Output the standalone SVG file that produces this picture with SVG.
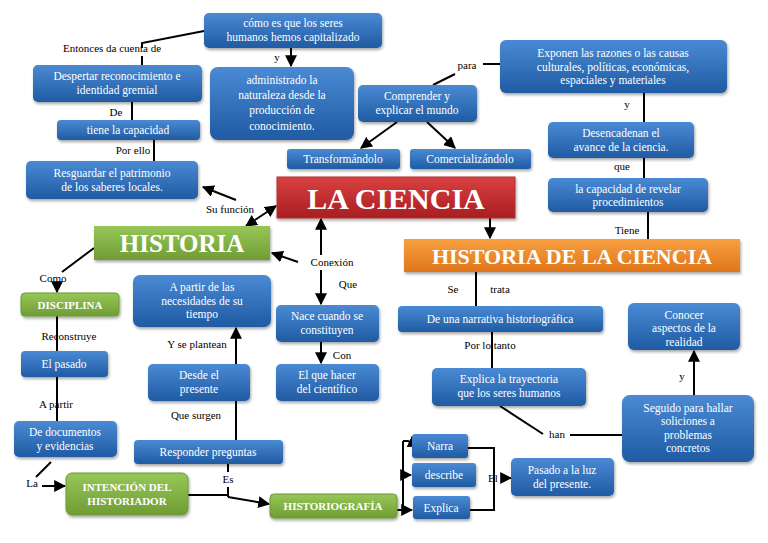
<svg xmlns="http://www.w3.org/2000/svg" width="768" height="543" viewBox="0 0 768 543">
<defs>
<linearGradient id="gb" x1="0" y1="0" x2="0" y2="1"><stop offset="0" stop-color="#4a8ad4"/><stop offset="1" stop-color="#1f5ba3"/></linearGradient>
<linearGradient id="gg" x1="0" y1="0" x2="0" y2="1"><stop offset="0" stop-color="#97c658"/><stop offset="1" stop-color="#6f9d34"/></linearGradient>
<linearGradient id="gr" x1="0" y1="0" x2="0" y2="1"><stop offset="0" stop-color="#d94040"/><stop offset="1" stop-color="#a81e22"/></linearGradient>
<linearGradient id="go" x1="0" y1="0" x2="0" y2="1"><stop offset="0" stop-color="#f7a040"/><stop offset="1" stop-color="#e0751a"/></linearGradient>
<filter id="sh" x="-10%" y="-20%" width="120%" height="150%"><feDropShadow dx="1" dy="2" stdDeviation="1.5" flood-color="#000" flood-opacity="0.35"/></filter>
<marker id="ar" viewBox="0 0 10 10" refX="9" refY="5" markerWidth="6" markerHeight="6" orient="auto-start-reverse"><path d="M0,0 L10,5 L0,10 z" fill="#000"/></marker>
</defs>
<style>
.b{fill:url(#gb);filter:url(#sh)}
.g{fill:url(#gg);stroke:#6a9a30;filter:url(#sh)}
.t{font-family:"Liberation Serif","DejaVu Serif",serif;font-size:11.5px;fill:#fff;text-anchor:middle}
.tg{font-family:"Liberation Serif","DejaVu Serif",serif;font-size:11px;font-weight:bold;fill:#fff;text-anchor:middle}
.l{font-family:"Liberation Serif","DejaVu Serif",serif;font-size:11px;fill:#000;text-anchor:middle}
.big{font-family:"Liberation Serif","DejaVu Serif",serif;font-weight:bold;fill:#fff;text-anchor:middle}
#c line,#c polyline{stroke:#000;stroke-width:2;fill:none}
</style>
<rect width="768" height="543" fill="#fff"/>
<g id="c">
<polyline points="204,31 142,43 142,48"/><line x1="142" y1="56" x2="142" y2="65"/>
<line x1="291" y1="48" x2="291" y2="66" marker-end="url(#ar)"/>
<line x1="132" y1="102" x2="132" y2="120"/>
<line x1="154" y1="140" x2="154" y2="161"/>
<line x1="236" y1="200" x2="203" y2="187" marker-end="url(#ar)"/>
<line x1="246" y1="226" x2="276" y2="206" marker-start="url(#ar)" marker-end="url(#ar)"/>
<line x1="433" y1="85" x2="455" y2="74"/><line x1="483" y1="64" x2="500" y2="64"/>
<line x1="397" y1="122" x2="361" y2="148" marker-end="url(#ar)"/>
<line x1="427" y1="122" x2="455" y2="148" marker-end="url(#ar)"/>
<line x1="644" y1="93" x2="644" y2="122"/>
<line x1="644" y1="158" x2="644" y2="178"/>
<line x1="648" y1="212" x2="648" y2="239"/>
<line x1="490" y1="218" x2="490" y2="238" marker-end="url(#ar)"/>
<line x1="321" y1="255" x2="321" y2="219" marker-end="url(#ar)"/>
<line x1="298" y1="262" x2="272" y2="253" marker-end="url(#ar)"/>
<line x1="321" y1="270" x2="321" y2="304" marker-end="url(#ar)"/>
<line x1="321" y1="342" x2="321" y2="363" marker-end="url(#ar)"/>
<line x1="94" y1="248" x2="62" y2="272"/>
<line x1="57" y1="283" x2="57" y2="292" marker-end="url(#ar)"/>
<line x1="57" y1="316" x2="57" y2="351"/>
<line x1="57" y1="377" x2="57" y2="421"/>
<line x1="51" y1="462" x2="36" y2="477"/>
<line x1="42" y1="486" x2="65" y2="486" marker-end="url(#ar)"/>
<polyline points="188,495 228,495 228,497"/>
<line x1="228" y1="464" x2="228" y2="472"/><line x1="228" y1="487" x2="228" y2="495"/>
<line x1="228" y1="497" x2="269" y2="504" marker-end="url(#ar)"/>
<line x1="236" y1="440" x2="236" y2="401"/>
<line x1="236" y1="364" x2="236" y2="328" marker-end="url(#ar)"/>
<line x1="476" y1="272" x2="476" y2="306"/>
<line x1="492" y1="332" x2="492" y2="368"/>
<line x1="500" y1="406" x2="543" y2="434"/><line x1="570" y1="435" x2="622" y2="435"/>
<line x1="694" y1="395" x2="694" y2="351" marker-end="url(#ar)"/>
<polyline points="397,510 403,510 403,441"/>
<polyline points="403,441 408,441 419,446" marker-end="url(#ar)"/>
<line x1="403" y1="475" x2="411" y2="475" marker-end="url(#ar)"/>
<line x1="403" y1="510" x2="412" y2="510" marker-end="url(#ar)"/>
<polyline points="468,448 494,448 494,510 470,510"/>
<line x1="501" y1="478" x2="511" y2="478" marker-end="url(#ar)"/>
<text class="l" x="112" y="52">Entonces da cuenta de</text>
<text class="l" x="277" y="61">y</text>
<text class="l" x="116" y="116">De</text>
<text class="l" x="133" y="154">Por ello</text>
<text class="l" x="230" y="213">Su función</text>
<text class="l" x="467" y="69">para</text>
<text class="l" x="627" y="108">y</text>
<text class="l" x="622" y="170">que</text>
<text class="l" x="627" y="234">Tiene</text>
<text class="l" x="332" y="266">Conexión</text>
<text class="l" x="348" y="288">Que</text>
<text class="l" x="342" y="359">Con</text>
<text class="l" x="53" y="282">Como</text>
<text class="l" x="69" y="340">Reconstruye</text>
<text class="l" x="56" y="408">A partir</text>
<text class="l" x="32" y="487">La</text>
<text class="l" x="228" y="483">Es</text>
<text class="l" x="196" y="419">Que surgen</text>
<text class="l" x="197" y="348">Y se plantean</text>
<text class="l" x="453" y="293">Se</text>
<text class="l" x="500" y="293">trata</text>
<text class="l" x="490" y="349">Por lo tanto</text>
<text class="l" x="557" y="438">han</text>
<text class="l" x="682" y="380">y</text>
<text class="l" x="493" y="482">El</text>
</g>
<g id="n1"><rect class="b" x="204" y="13" width="178" height="35" rx="5"/><text class="t" x="293" y="27">cómo es que los seres</text><text class="t" x="293" y="41">humanos hemos capitalizado</text></g>
<g id="n2"><rect class="b" x="210" y="67" width="144" height="73" rx="8"/><text class="t" x="282" y="84">administrado la</text><text class="t" x="282" y="99">naturaleza desde la</text><text class="t" x="282" y="114">producción de</text><text class="t" x="282" y="130">conocimiento.</text></g>
<g id="n3"><rect class="b" x="33" y="65" width="169" height="37" rx="5"/><text class="t" x="117" y="80">Despertar reconocimiento e</text><text class="t" x="117" y="94">identidad gremial</text></g>
<g id="n4"><rect class="b" x="57" y="120" width="143" height="20" rx="4"/><text class="t" x="128" y="134">tiene la capacidad</text></g>
<g id="n5"><rect class="b" x="26" y="161" width="172" height="38" rx="5"/><text class="t" x="112" y="177">Resguardar el patrimonio</text><text class="t" x="112" y="191">de los saberes locales.</text></g>
<g id="n6"><rect class="b" x="358" y="85" width="119" height="37" rx="5"/><text class="t" x="417" y="100">Comprender y</text><text class="t" x="417" y="114">explicar el mundo</text></g>
<g id="n7"><rect class="b" x="287" y="149" width="113" height="20" rx="3"/><text class="t" x="343" y="163">Transformándolo</text></g>
<g id="n8"><rect class="b" x="410" y="149" width="121" height="20" rx="3"/><text class="t" x="470" y="163">Comercializándolo</text></g>
<g id="n9"><rect class="b" x="500" y="40" width="227" height="53" rx="6"/><text class="t" x="613" y="57">Exponen las razones o las causas</text><text class="t" x="613" y="71">culturales, políticas, económicas,</text><text class="t" x="613" y="84">espaciales y materiales</text></g>
<g id="n10"><rect class="b" x="548" y="122" width="146" height="36" rx="5"/><text class="t" x="621" y="137">Desencadenan el</text><text class="t" x="621" y="151">avance de la ciencia.</text></g>
<g id="n11"><rect class="b" x="548" y="178" width="160" height="34" rx="5"/><text class="t" x="628" y="193">la capacidad de revelar</text><text class="t" x="628" y="206">procedimientos</text></g>
<g id="laciencia"><rect x="277" y="177" width="238" height="41" fill="url(#gr)" stroke="#b03030" filter="url(#sh)"/><text class="big" x="396" y="209" font-size="30">LA CIENCIA</text></g>
<g id="historia"><rect x="94" y="226" width="176" height="34" fill="url(#gg)" filter="url(#sh)"/><text class="big" x="182" y="252" font-size="25">HISTORIA</text></g>
<g id="hdlc"><rect x="404" y="239" width="336" height="33" fill="url(#go)" filter="url(#sh)"/><text class="big" x="572" y="264" font-size="22">HISTORIA DE LA CIENCIA</text></g>
<g id="disciplina"><rect class="g" x="21" y="293" width="98" height="23" rx="4"/><text class="tg" x="70" y="309">DISCIPLINA</text></g>
<g id="pasado"><rect class="b" x="21" y="351" width="87" height="26" rx="4"/><text class="t" x="64" y="368">El pasado</text></g>
<g id="documentos"><rect class="b" x="14" y="421" width="103" height="36" rx="5"/><text class="t" x="65" y="436">De documentos</text><text class="t" x="65" y="450">y evidencias</text></g>
<g id="intencion"><rect class="g" x="66" y="473" width="122" height="42" rx="6"/><text class="tg" x="127" y="491">INTENCIÓN DEL</text><text class="tg" x="127" y="505">HISTORIADOR</text></g>
<g id="necesidades"><rect class="b" x="133" y="275" width="138" height="52" rx="7"/><text class="t" x="202" y="291">A partir de las</text><text class="t" x="202" y="305">necesidades de su</text><text class="t" x="202" y="318">tiempo</text></g>
<g id="desde"><rect class="b" x="148" y="364" width="102" height="37" rx="5"/><text class="t" x="199" y="379">Desde el</text><text class="t" x="199" y="393">presente</text></g>
<g id="responder"><rect class="b" x="134" y="440" width="149" height="24" rx="4"/><text class="t" x="208" y="456">Responder preguntas</text></g>
<g id="nace"><rect class="b" x="276" y="305" width="103" height="37" rx="5"/><text class="t" x="327" y="320">Nace cuando se</text><text class="t" x="327" y="334">constituyen</text></g>
<g id="quehacer"><rect class="b" x="276" y="364" width="103" height="37" rx="5"/><text class="t" x="327" y="379">El que hacer</text><text class="t" x="327" y="393">del científico</text></g>
<g id="historiografia"><rect class="g" x="270" y="494" width="127" height="24" rx="4"/><text class="tg" x="333" y="510">HISTORIOGRAFÍA</text></g>
<g id="narrativa"><rect class="b" x="398" y="306" width="205" height="26" rx="4"/><text class="t" x="500" y="323">De una narrativa historiográfica</text></g>
<g id="trayectoria"><rect class="b" x="432" y="368" width="154" height="38" rx="5"/><text class="t" x="509" y="383">Explica la trayectoria</text><text class="t" x="509" y="397">que los seres humanos</text></g>
<g id="conocer"><rect class="b" x="628" y="303" width="112" height="47" rx="6"/><text class="t" x="684" y="319">Conocer</text><text class="t" x="684" y="332">aspectos de la</text><text class="t" x="684" y="346">realidad</text></g>
<g id="seguido"><rect class="b" x="622" y="395" width="132" height="67" rx="8"/><text class="t" x="688" y="412">Seguido para hallar</text><text class="t" x="688" y="425">soliciones a</text><text class="t" x="688" y="439">problemas</text><text class="t" x="688" y="452">concretos</text></g>
<g id="narra"><rect class="b" x="412" y="434" width="56" height="24" rx="3"/><text class="t" x="440" y="450">Narra</text></g>
<g id="describe"><rect class="b" x="412" y="463" width="64" height="24" rx="3"/><text class="t" x="444" y="479">describe</text></g>
<g id="explica"><rect class="b" x="413" y="496" width="57" height="23" rx="3"/><text class="t" x="441" y="512">Explica</text></g>
<g id="pasadoluz"><rect class="b" x="511" y="458" width="103" height="38" rx="5"/><text class="t" x="562" y="474">Pasado a la luz</text><text class="t" x="562" y="488">del presente.</text></g>
</svg>
